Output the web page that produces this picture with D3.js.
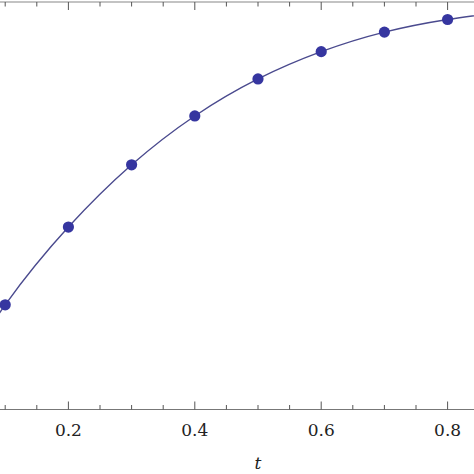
<!DOCTYPE html>
<html>
<head>
<meta charset="utf-8">
<script src="https://cdn.jsdelivr.net/npm/d3@7"></script>
<style>
  body { margin: 0; background: #fff; }
  svg { display: block; }
  text.lbl { font-family: "DejaVu Serif", serif; fill: #222; }
</style>
</head>
<body>
<div id="chart"></div>
<script>
// data (y in arbitrary units)
const tValues = [0.1, 0.2, 0.3, 0.4, 0.5, 0.6, 0.7, 0.8, 0.9];
const yValues = [0.256, 0.447, 0.600, 0.720, 0.811, 0.878, 0.926, 0.957, 0.978];
// fitted curve runs a bit past the sampled points
const curveT = [0.0, 0.1, 0.2, 0.3, 0.4, 0.5, 0.6, 0.7, 0.8, 0.9];
const curveY = [0.02, 0.256, 0.447, 0.600, 0.720, 0.811, 0.878, 0.926, 0.957, 0.978];
const majorTicks = [0.2, 0.4, 0.6, 0.8];
const minorTicks = d3.range(0, 1.0001, 0.05).map(d => +d.toFixed(2));
const xLabel = 't';

const width = 474, height = 474;

const svg = d3.select('#chart')
    .append('svg')
    .attr('width', width)
    .attr('height', height);

// scales
let x = d3.scaleLinear()
    .domain([0, 1])
    .range([-58, 574]);

let y = d3.scaleLinear()
    .domain([0, 1])
    .range([409, 2]);

const frameTop = 2, frameBottom = 409.5;

// frame lines
svg.append('line')
    .attr('x1', 0).attr('x2', width)
    .attr('y1', frameTop).attr('y2', frameTop)
    .attr('stroke', '#888').attr('stroke-width', 1.2);

svg.append('line')
    .attr('x1', 0).attr('x2', width)
    .attr('y1', frameBottom).attr('y2', frameBottom)
    .attr('stroke', '#777').attr('stroke-width', 1.2);

// minor + major ticks, bottom axis (pointing up) and top frame (pointing down)
const isMajor = d => majorTicks.some(m => Math.abs(m - d) < 1e-6);

svg.append('g')
    .selectAll('line')
    .data(minorTicks)
    .enter()
    .append('line')
    .attr('x1', d => x(d)).attr('x2', d => x(d))
    .attr('y1', frameBottom)
    .attr('y2', d => frameBottom - (isMajor(d) ? 8 : 4.5))
    .attr('stroke', '#555').attr('stroke-width', 1);

svg.append('g')
    .selectAll('line')
    .data(minorTicks)
    .enter()
    .append('line')
    .attr('x1', d => x(d)).attr('x2', d => x(d))
    .attr('y1', frameTop)
    .attr('y2', d => frameTop + (isMajor(d) ? 8 : 4.5))
    .attr('stroke', '#555').attr('stroke-width', 1);

// tick labels
svg.append('g')
    .selectAll('text')
    .data(majorTicks)
    .enter()
    .append('text')
    .attr('class', 'lbl')
    .attr('x', d => x(d))
    .attr('y', 436)
    .attr('text-anchor', 'middle')
    .style('font-size', '17px')
    .text(d => d.toFixed(1));

// axis label
svg.append('text')
    .attr('class', 'lbl')
    .attr('x', x(0.5))
    .attr('y', 469)
    .attr('text-anchor', 'middle')
    .style('font-style', 'italic')
    .style('font-size', '17px')
    .text(xLabel);

// curve
let line = d3.line()
    .x(d => x(d[0]))
    .y(d => y(d[1]))
    .curve(d3.curveNatural);

svg.append('path')
    .datum(curveT.map((t, i) => [t, curveY[i]]))
    .attr('d', line)
    .attr('fill', 'none')
    .attr('stroke', '#4a4a8e')
    .attr('stroke-width', 1.4);

// points
svg.append('g')
    .selectAll('circle')
    .data(tValues.map((t, i) => ({t: t, v: yValues[i]})))
    .enter()
    .append('circle')
    .attr('cx', d => x(d.t))
    .attr('cy', d => y(d.v))
    .attr('r', 5.6)
    .attr('fill', '#3636a0');
</script>
</body>
</html>
